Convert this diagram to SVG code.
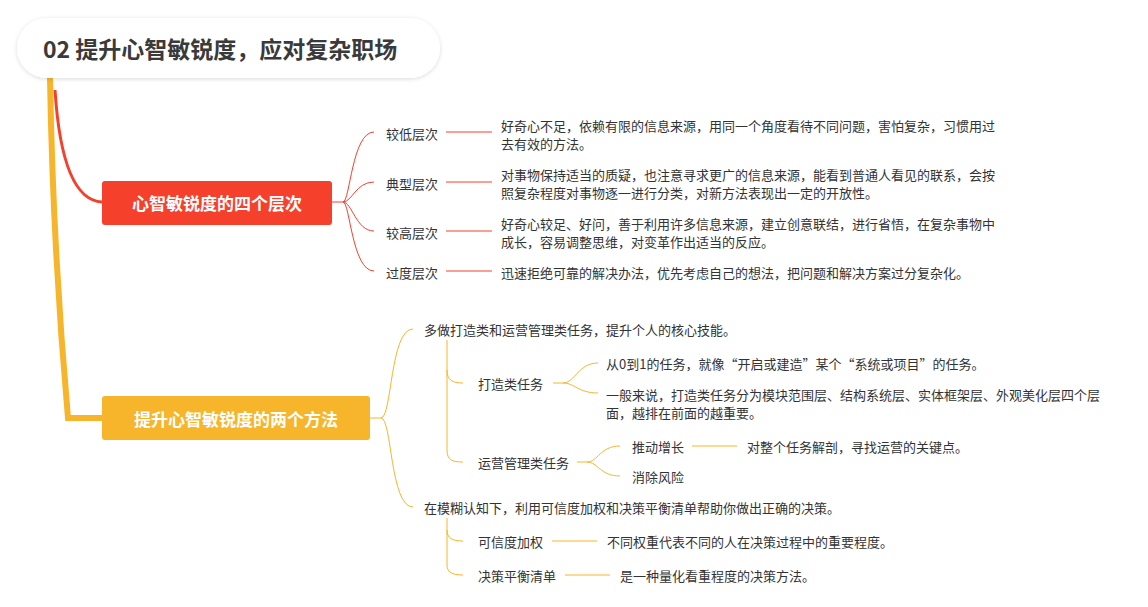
<svg xmlns="http://www.w3.org/2000/svg" width="1148" height="607" viewBox="0 0 1148 607">
<defs>
<filter id="sh" x="-10%" y="-30%" width="120%" height="160%"><feDropShadow dx="0" dy="1" stdDeviation="2" flood-color="#000" flood-opacity="0.15"/></filter>
</defs>
<style>
text{font-family:"Microsoft YaHei","Noto Sans CJK SC",sans-serif;dominant-baseline:central}
.t{font-size:13px;fill:#333}
.r{fill:none;stroke:#f5402c;stroke-width:1}
.y{fill:none;stroke:#f7b52b;stroke-width:1}
.m{font-size:17px;font-weight:bold;fill:#fff;text-anchor:middle}
</style>
<rect width="1148" height="607" fill="#fff"/>
<g id="connectors">
<path d="M50 78 Q53 250 68 418 L102 418" fill="none" stroke="#f7b52b" stroke-width="6"/>
<path d="M55 90 Q62 200 102 202" fill="none" stroke="#f5402c" stroke-width="3"/>
<path class="r" d="M332 202 H343 C350 202 352 132 374 132"/>
<path class="r" d="M343 202 C352 202 356 182 374 182"/>
<path class="r" d="M343 202 C352 202 356 231 374 231"/>
<path class="r" d="M343 202 C350 202 352 271 374 271"/>
<path class="r" d="M446 132 H492 M446 182 H492 M446 231 H492 M446 271 H492"/>
<path class="y" d="M370 418 H381 C392 418 390 329 413 329"/>
<path class="y" d="M381 418 C392 418 390 507 413 507"/>
<path class="y" d="M447 340 V370 C447 380 452 383 463 383 M447 370 V450 C447 460 452 462 463 462"/>
<path class="y" d="M553 383 H563 C575 383 578 363 598 363 M563 383 C575 383 578 393 598 393"/>
<path class="y" d="M577 462 H587 C598 462 600 446 620 446 M587 462 C598 462 600 476 620 476"/>
<path class="y" d="M692 446 H737"/>
<path class="y" d="M447 518 V530 C447 538 452 541 463 541 M447 530 V565 C447 572 452 575 463 575"/>
<path class="y" d="M552 541 H597 M565 575 H610"/>
</g>
<g id="title">
<rect x="17" y="18" width="423" height="60" rx="30" fill="#fff" filter="url(#sh)"/>
<text x="43" y="48" style="font-size:23px;font-weight:bold;fill:#3a3a3a">02 提升心智敏锐度，应对复杂职场</text>
</g>
<g id="n-red">
<rect x="102" y="181" width="230" height="44" rx="3" fill="#f5402c"/>
<text class="m" x="217" y="202">心智敏锐度的四个层次</text>
</g>
<g id="n-yellow">
<rect x="102" y="396" width="268" height="44" rx="3" fill="#f7b52b"/>
<text class="m" x="236" y="418">提升心智敏锐度的两个方法</text>
</g>
<g id="levels">
<text class="t" x="386" y="133">较低层次</text>
<text class="t" x="501" y="125">好奇心不足，依赖有限的信息来源，用同一个角度看待不同问题，害怕复杂，习惯用过</text>
<text class="t" x="501" y="143">去有效的方法。</text>
<text class="t" x="386" y="183">典型层次</text>
<text class="t" x="501" y="174">对事物保持适当的质疑，也注意寻求更广的信息来源，能看到普通人看见的联系，会按</text>
<text class="t" x="501" y="192">照复杂程度对事物逐一进行分类，对新方法表现出一定的开放性。</text>
<text class="t" x="386" y="232">较高层次</text>
<text class="t" x="501" y="223">好奇心较足、好问，善于利用许多信息来源，建立创意联结，进行省悟，在复杂事物中</text>
<text class="t" x="501" y="241">成长，容易调整思维，对变革作出适当的反应。</text>
<text class="t" x="386" y="272">过度层次</text>
<text class="t" x="501" y="272">迅速拒绝可靠的解决办法，优先考虑自己的想法，把问题和解决方案过分复杂化。</text>
</g>
<g id="methods">
<text class="t" x="424" y="329">多做打造类和运营管理类任务，提升个人的核心技能。</text>
<text class="t" x="478" y="383">打造类任务</text>
<text class="t" x="606" y="363">从0到1的任务，就像“开启或建造”某个“系统或项目”的任务。</text>
<text class="t" x="606" y="394">一般来说，打造类任务分为模块范围层、结构系统层、实体框架层、外观美化层四个层</text>
<text class="t" x="606" y="412">面，越排在前面的越重要。</text>
<text class="t" x="478" y="462">运营管理类任务</text>
<text class="t" x="632" y="446">推动增长</text>
<text class="t" x="747" y="446">对整个任务解剖，寻找运营的关键点。</text>
<text class="t" x="632" y="476">消除风险</text>
<text class="t" x="424" y="507">在模糊认知下，利用可信度加权和决策平衡清单帮助你做出正确的决策。</text>
<text class="t" x="478" y="541">可信度加权</text>
<text class="t" x="607" y="541">不同权重代表不同的人在决策过程中的重要程度。</text>
<text class="t" x="478" y="575">决策平衡清单</text>
<text class="t" x="620" y="575">是一种量化看重程度的决策方法。</text>
</g>
</svg>
